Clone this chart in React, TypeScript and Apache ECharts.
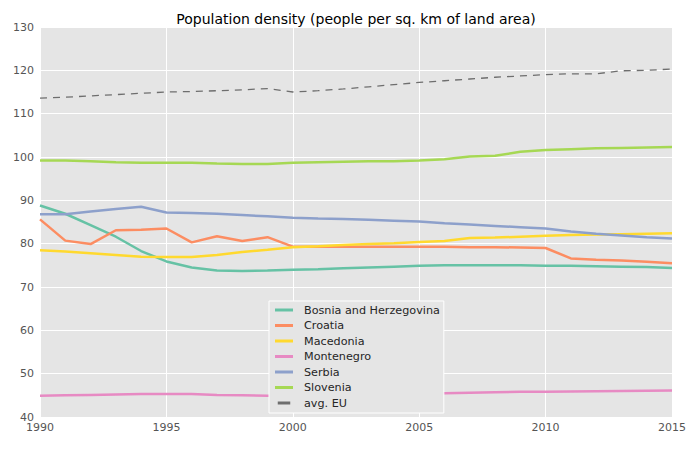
import React, { useEffect, useRef } from "react";
import * as echarts from "echarts";

const years = [
  1990, 1991, 1992, 1993, 1994, 1995, 1996, 1997, 1998, 1999, 2000, 2001, 2002,
  2003, 2004, 2005, 2006, 2007, 2008, 2009, 2010, 2011, 2012, 2013, 2014, 2015,
];

const bosnia = [
  88.8, 86.9, 84.3, 81.6, 78.3, 75.9, 74.5, 73.8, 73.7, 73.8, 74.0, 74.1, 74.3,
  74.5, 74.7, 74.9, 75.0, 75.0, 75.0, 75.0, 74.9, 74.9, 74.8, 74.7, 74.6, 74.4,
];
const croatia = [
  85.6, 80.7, 79.9, 83.1, 83.2, 83.5, 80.3, 81.7, 80.6, 81.5, 79.3, 79.3, 79.3,
  79.3, 79.3, 79.3, 79.3, 79.2, 79.2, 79.1, 79.0, 76.6, 76.3, 76.1, 75.8, 75.5,
];
const macedonia = [
  78.5, 78.2, 77.8, 77.4, 77.0, 76.9, 76.9, 77.4, 78.1, 78.6, 79.2, 79.4, 79.7,
  79.9, 80.1, 80.4, 80.6, 81.3, 81.4, 81.6, 81.8, 82.0, 82.1, 82.2, 82.3, 82.4,
];
const montenegro = [
  44.9, 45.0, 45.1, 45.2, 45.3, 45.3, 45.3, 45.1, 45.0, 44.9, 44.8, 44.9, 45.0,
  45.1, 45.2, 45.4, 45.5, 45.6, 45.7, 45.8, 45.8, 45.9, 45.95, 46.0, 46.05, 46.1,
];
const serbia = [
  86.8, 86.8, 87.4, 88.0, 88.5, 87.2, 87.1, 86.9, 86.6, 86.3, 86.0, 85.8, 85.7,
  85.5, 85.3, 85.1, 84.7, 84.4, 84.1, 83.8, 83.5, 82.8, 82.3, 81.9, 81.5, 81.2,
];
const slovenia = [
  99.2, 99.2, 99.0, 98.8, 98.7, 98.7, 98.7, 98.5, 98.4, 98.4, 98.7, 98.8, 98.9,
  99.0, 99.0, 99.2, 99.5, 100.1, 100.3, 101.2, 101.6, 101.8, 102.0, 102.1, 102.2, 102.3,
];
const avgEU = [
  113.6, 113.8, 114.1, 114.4, 114.7, 115.0, 115.1, 115.3, 115.5, 115.8, 115.0,
  115.3, 115.7, 116.2, 116.7, 117.2, 117.6, 118.0, 118.4, 118.7, 119.0, 119.2,
  119.2, 119.9, 120.0, 120.3,
];

const seriesNames = [
  "Bosnia and Herzegovina",
  "Croatia",
  "Macedonia",
  "Montenegro",
  "Serbia",
  "Slovenia",
];
const seriesValues = [bosnia, croatia, macedonia, montenegro, serbia, slovenia];
const seriesColors = ["#66c2a5", "#fc8d62", "#ffd92f", "#e78ac3", "#8da0cb", "#a6d854"];
const avgName = "avg. EU";

const xTicks = { min: 1990, max: 2015, interval: 5 };
const yTicks = { min: 40, max: 130, interval: 10 };

const FONT = "DejaVu Sans";

export default function App() {
  const ref = useRef<HTMLDivElement>(null);

  useEffect(() => {
    if (!ref.current) return;
    const chart = echarts.init(ref.current, undefined, { renderer: "svg" });

    const pairs = (vals: number[]) => years.map((y, i) => [y, vals[i]]);

    const series: any[] = seriesNames.map((name, i) => ({
      name,
      type: "line",
      data: pairs(seriesValues[i]),
      symbol: "none",
      lineStyle: { color: seriesColors[i], width: 2.5 },
      itemStyle: { color: seriesColors[i] },
      z: 2,
    }));
    series.push({
      name: avgName,
      type: "line",
      data: pairs(avgEU),
      symbol: "none",
      lineStyle: { color: "#6e6e6e", width: 1.3, type: [7, 6] },
      itemStyle: { color: "#6e6e6e" },
      z: 2,
    });

    chart.setOption({
      animation: false,
      backgroundColor: "#ffffff",
      title: {
        text: "Population density (people per sq. km of land area)",
        left: 351,
        textAlign: "center",
        top: 7,
        textStyle: { fontFamily: FONT, fontSize: 14, fontWeight: "normal", color: "#000" },
      },
      grid: { left: 40, right: 28, top: 27, bottom: 33, containLabel: false, backgroundColor: "#e5e5e5", show: true, borderWidth: 0 },
      legend: {
        orient: "vertical",
        left: 269,
        top: 301,
        backgroundColor: "#e5e5e5",
        borderColor: "#ffffff",
        borderWidth: 1,
        padding: [3, 4, 4, 6],
        itemWidth: 18,
        itemHeight: 3,
        itemGap: 3.5,
        textStyle: { fontFamily: FONT, fontSize: 11.2, color: "#262626", lineHeight: 12, padding: [0, 0, 0, 6] },
        data: [
          ...seriesNames.map((n) => ({ name: n, icon: "rect" })),
          { name: avgName, icon: "path://M0,0h10v2.4h-10z" },
        ],
        z: 10,
      },
      xAxis: {
        type: "value",
        min: xTicks.min,
        max: xTicks.max,
        interval: xTicks.interval,
        axisLine: { show: false },
        axisTick: { show: false },
        axisLabel: {
          formatter: (v: number) => String(v),
          color: "#555555",
          fontFamily: FONT,
          fontSize: 11,
          margin: 5,
        },
        splitLine: { show: true, lineStyle: { color: "#ffffff", width: 1 } },
      },
      yAxis: {
        type: "value",
        min: yTicks.min,
        max: yTicks.max,
        interval: yTicks.interval,
        axisLine: { show: false },
        axisTick: { show: false },
        axisLabel: {
          color: "#555555",
          fontFamily: FONT,
          fontSize: 11,
          margin: 6,
        },
        splitLine: { show: true, lineStyle: { color: "#ffffff", width: 1 } },
      },
      series,
    });

    return () => chart.dispose();
  }, []);

  return (
    <div
      ref={ref}
      style={{ position: "fixed", left: 0, top: 0, width: 700, height: 450 }}
    />
  );
}
